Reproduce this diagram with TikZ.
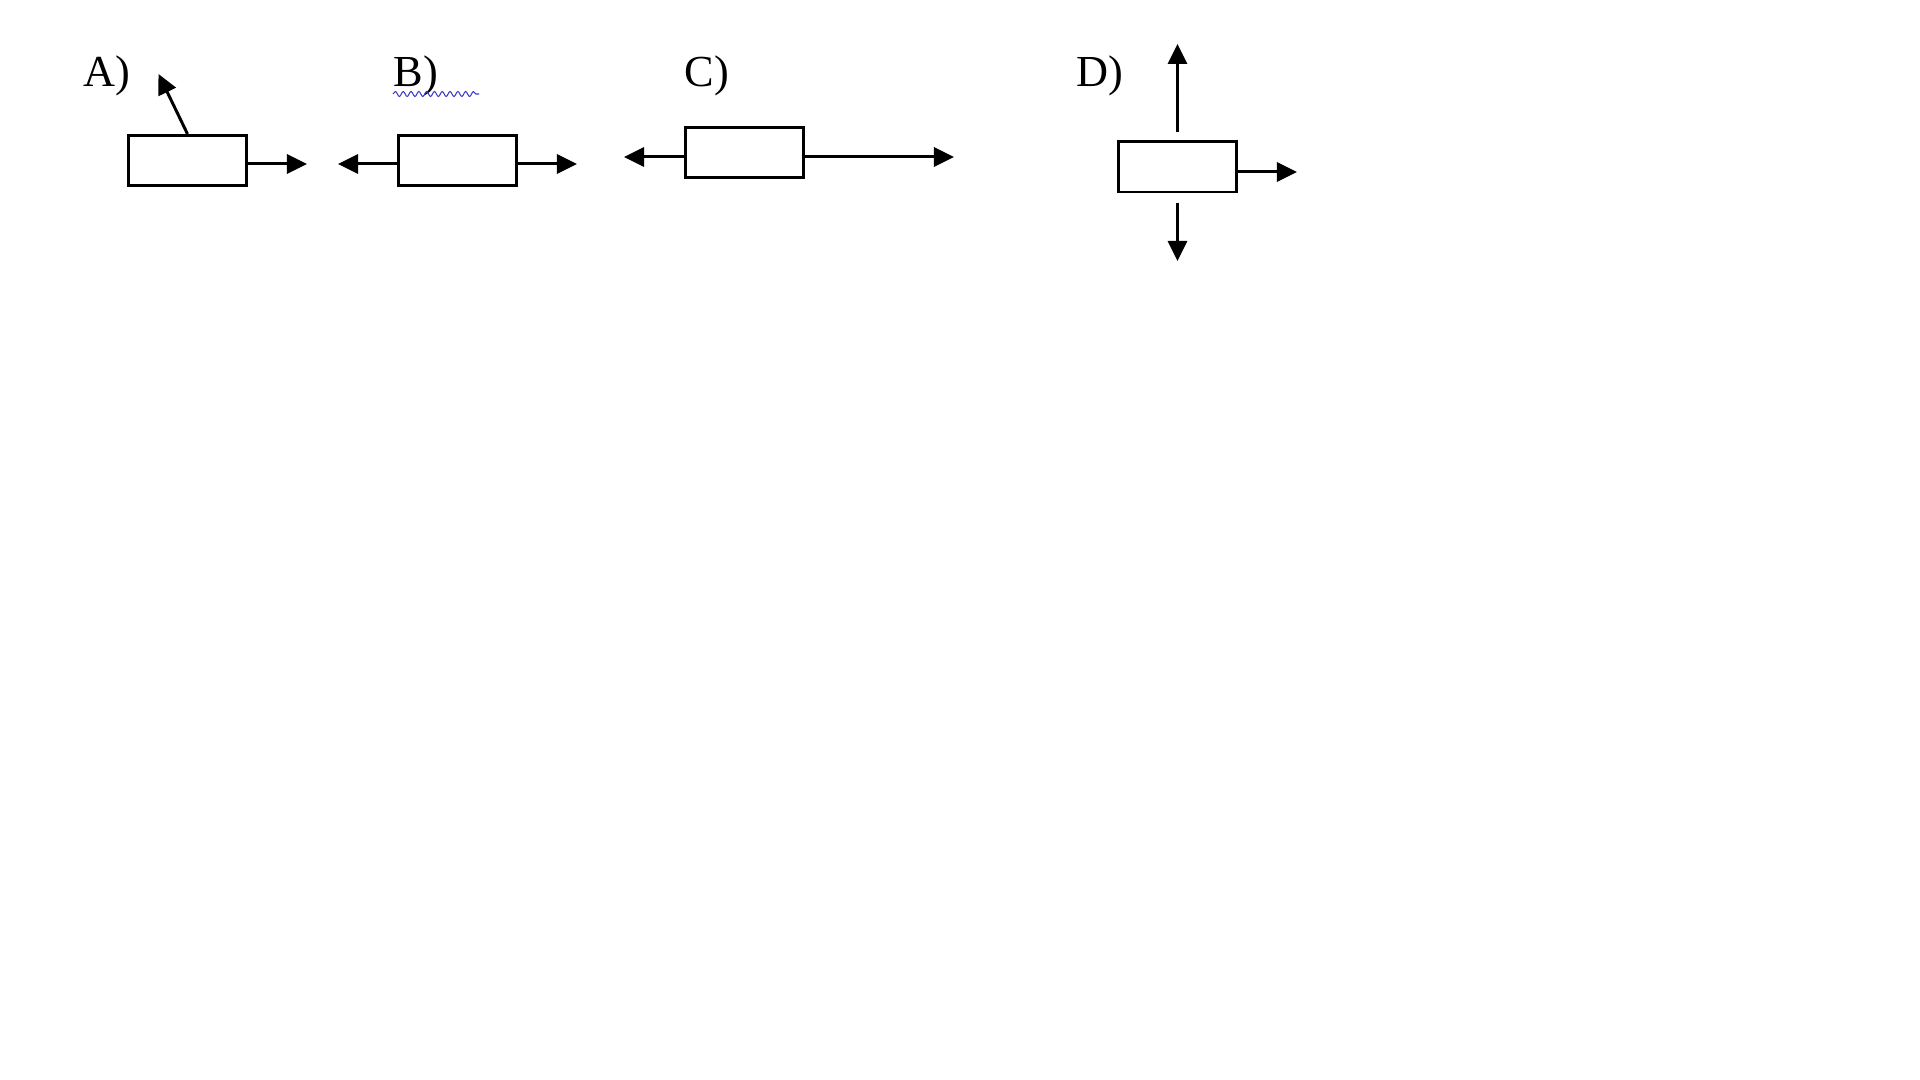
\documentclass[tikz,border=0pt]{standalone}
\usepackage{fontspec}
\setmainfont{Liberation Serif}
\usetikzlibrary{arrows.meta,positioning,decorations.pathmorphing}
\definecolor{spellblue}{RGB}{60,60,200}
\tikzstyle{block} = [rectangle, draw=black, line width=0.85pt, minimum width=1.18cm, minimum height=0.50cm, inner sep=0pt]
\tikzstyle{arrow} = [line width=0.85pt, -{Triangle[length=0.2cm, width=0.19cm]}]
\tikzstyle{tag} = [anchor=base west, inner sep=0pt, font=\fontsize{12.6}{15}\selectfont]

\begin{document}
\begin{tikzpicture}[x=0.01cm, y=-0.01cm]
\useasboundingbox (0,0) rectangle (1920,1080);

% labels
\node[tag] (labA) at (83,87) {A)};
\node[tag] (labB) at (393,87) {B)};
\node[tag] (labC) at (684,87) {C)};
\node[tag] (labD) at (1076,87) {D)};
\draw[spellblue, line width=0.3pt, decorate, decoration={snake, amplitude=0.025cm, segment length=0.078cm}]
  ([yshift=-0.07cm]labB.base west) -- ++(86,0);

% boxes
\node[block] (boxA) at (187.5,160.5) {};
\node[block] (boxB) at (457.5,160.5) {};
\node[block] (boxC) at (744.5,152.5) {};
\node[block] (boxD) at (1177.5,167) {};

% arrow ends
\coordinate (endAup) at (158.5,74);
\coordinate (endAr) at (307,164);
\coordinate (endBl) at (338,164);
\coordinate (endBr) at (577,164);
\coordinate (endCl) at (624,157);
\coordinate (endCr) at (954,157);
\coordinate (endDup) at (1177.5,44);
\coordinate (endDdn) at (1177.5,261);
\coordinate (endDr) at (1297,172);

\draw[arrow] (boxA.north) -- (endAup);
\draw[arrow] (boxA.east |- endAr) -- (endAr);
\draw[arrow] (boxB.west |- endBl) -- (endBl);
\draw[arrow] (boxB.east |- endBr) -- (endBr);
\draw[arrow] (boxC.west |- endCl) -- (endCl);
\draw[arrow] (boxC.east |- endCr) -- (endCr);
\draw[arrow, shorten <=0.08cm] (boxD.north) -- (endDup);
\draw[arrow, shorten <=0.09cm] (boxD.south) -- (endDdn);
\draw[arrow] (boxD.east |- endDr) -- (endDr);
\end{tikzpicture}
\end{document}
